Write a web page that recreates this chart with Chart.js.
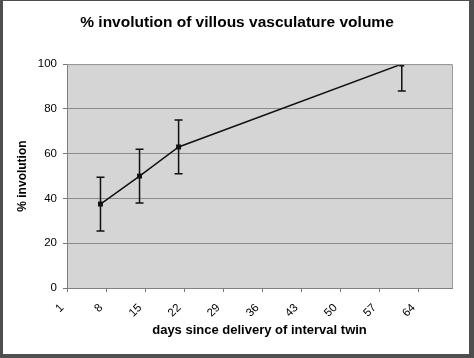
<!DOCTYPE html>
<html><head><meta charset="utf-8">
<script src="https://cdn.jsdelivr.net/npm/chart.js@4/dist/chart.umd.min.js"></script>
<style>html,body{margin:0;padding:0;background:#fff;overflow:hidden;} #wrap{width:474px;height:358px;}</style>
</head><body><div id="wrap"><canvas id="c" width="474" height="358"></canvas></div>
<script>
const days = [7, 14, 21, 61];
const involution = [37.5, 50, 63, 100];
const errUp = [12, 12, 12, 12];
const errDown = [12, 12, 12, 12];
const xTickValues = [1, 8, 15, 22, 29, 36, 43, 50, 57, 64];
const xMin = 1, xMax = 70;
const yMin = 0, yMax = 100, yStep = 20;
const titleText = '% involution of villous vasculature volume';
const xTitle = 'days since delivery of interval twin';
const yTitle = '% involution';

const FONT = "'Liberation Sans', Arial, sans-serif";

const framePlugin = {
  id: 'frame',
  beforeDraw(chart) {
    const ctx = chart.ctx, W = chart.width, H = chart.height, a = chart.chartArea;
    ctx.save();
    ctx.fillStyle = '#4f4f4f';
    ctx.fillRect(0, 0, W, H);
    ctx.fillStyle = '#ffffff';
    ctx.fillRect(3, 1, W - 3 - 5, H - 1 - 4);
    ctx.fillStyle = '#d5d5d5';
    ctx.fillRect(a.left, a.top, a.right - a.left, a.bottom - a.top);
    ctx.restore();
  },
  afterDraw(chart) {
    const ctx = chart.ctx, a = chart.chartArea;
    ctx.save();
    ctx.strokeStyle = '#9a9a9a';
    ctx.lineWidth = 1;
    ctx.beginPath();
    ctx.moveTo(a.left, a.top + 0.5); ctx.lineTo(a.right + 0.5, a.top + 0.5);
    ctx.lineTo(a.right + 0.5, a.bottom);
    ctx.stroke();
    ctx.restore();
  }
};

const errorBarPlugin = {
  id: 'errorBars',
  afterDatasetsDraw(chart) {
    const ctx = chart.ctx, xs = chart.scales.x, ys = chart.scales.y, a = chart.chartArea;
    ctx.save();
    ctx.beginPath();
    ctx.rect(a.left, a.top + 1, a.right - a.left, a.bottom - a.top);
    ctx.clip();
    ctx.strokeStyle = '#111';
    ctx.lineWidth = 1.5;
    days.forEach((d, i) => {
      const x = xs.getPixelForValue(d);
      const yTop = ys.getPixelForValue(involution[i] + errUp[i]);
      const yBot = ys.getPixelForValue(involution[i] - errDown[i]);
      ctx.beginPath();
      ctx.moveTo(x, yTop); ctx.lineTo(x, yBot);
      ctx.moveTo(x - 4, yTop); ctx.lineTo(x + 4, yTop);
      ctx.moveTo(x - 4, yBot); ctx.lineTo(x + 4, yBot);
      ctx.stroke();
    });
    ctx.restore();
  }
};

new Chart(document.getElementById('c'), {
  type: 'line',
  data: {
    datasets: [{
      data: days.map((d, i) => ({x: d, y: involution[i]})),
      borderColor: '#111',
      backgroundColor: '#111',
      borderWidth: 1.5,
      pointStyle: 'rect',
      pointRadius: 3.5,
      pointBorderWidth: 0,
      fill: false,
      tension: 0
    }]
  },
  options: {
    responsive: false,
    animation: false,
    devicePixelRatio: 1,
    layout: {padding: {left: 0, right: 0, top: 0, bottom: 0}},
    plugins: {
      legend: {display: false},
      tooltip: {enabled: false},
      title: {
        display: true,
        text: titleText,
        color: '#000',
        font: {family: FONT, size: 15.5, weight: 'bold'},
        padding: {top: 13, bottom: 32.5}
      }
    },
    scales: {
      x: {
        type: 'linear',
        min: xMin, max: xMax,
        afterBuildTicks(scale) { scale.ticks = xTickValues.map(v => ({value: v})); },
        afterFit(scale) { scale.height = 70; },
        grid: {display: true, drawOnChartArea: false, drawTicks: true, tickLength: 4, color: '#777', lineWidth: 1},
        border: {display: true, color: '#808080', width: 1},
        ticks: {
          autoSkip: false, minRotation: 45, maxRotation: 45,
          color: '#000', font: {family: FONT, size: 11.5}, padding: 9, labelOffset: -5
        },
        title: {
          display: true, text: xTitle, color: '#000',
          font: {family: FONT, size: 13, weight: 'bold'},
          padding: {top: 0, bottom: 20}
        }
      },
      y: {
        type: 'linear',
        min: yMin, max: yMax,
        afterFit(scale) { scale.width = 67; },
        grid: {color: '#8c8c8c', lineWidth: 1, tickLength: 4, drawTicks: true, tickColor: '#777'},
        border: {display: true, color: '#808080', width: 1},
        ticks: {stepSize: yStep, color: '#000', font: {family: FONT, size: 11.5}, padding: 6},
        title: {
          display: true, text: yTitle, color: '#000',
          font: {family: FONT, size: 12, weight: 'bold'},
          padding: {top: 15, bottom: 0}
        }
      },
      yr: {
        type: 'linear',
        position: 'right',
        min: yMin, max: yMax,
        display: true,
        afterFit(scale) { scale.width = 22; },
        grid: {display: false, drawOnChartArea: false, drawTicks: false},
        border: {display: false},
        ticks: {display: false},
        title: {display: false}
      }
    }
  },
  plugins: [framePlugin, errorBarPlugin]
});
</script>
</body></html>
